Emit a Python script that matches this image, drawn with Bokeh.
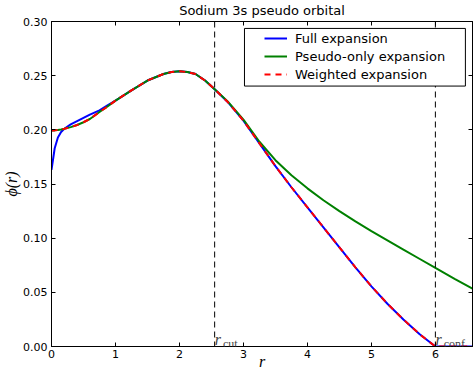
from bokeh.plotting import figure
from bokeh.models import (ColumnDataSource, Range1d, FixedTicker, NumeralTickFormatter,
                          LinearAxis, Span, Label, Legend, LegendItem, BoxAnnotation)
from bokeh.embed import file_html
from bokeh.resources import INLINE

# ---- data ----
r = [0.0, 0.05, 0.1, 0.15, 0.2, 0.3, 0.4, 0.5, 0.6, 0.75, 0.875, 1.0, 1.25, 1.5, 1.75,
     1.875, 2.0, 2.125, 2.25, 2.4, 2.55, 2.75, 3.0, 3.25, 3.5, 3.75, 4.0, 4.25, 4.5,
     4.75, 5.0, 5.25, 5.5, 5.75, 6.0, 6.3, 6.58]
full_expansion = [0.163, 0.183, 0.193, 0.198, 0.201, 0.205, 0.208, 0.211, 0.214, 0.218,
                  0.2225, 0.227, 0.2365, 0.2455, 0.2515, 0.2533, 0.254, 0.2533, 0.2515,
                  0.2455, 0.2375, 0.226, 0.2085, 0.1875, 0.1665, 0.147, 0.1285, 0.110,
                  0.0915, 0.073, 0.0555, 0.0395, 0.025, 0.0115, 0.0, 0.0, 0.0]
pseudo_only = [0.1995, 0.1995, 0.1998, 0.2003, 0.201, 0.2025, 0.2045, 0.207, 0.210, 0.2165,
               0.2215, 0.227, 0.2365, 0.2455, 0.2515, 0.2533, 0.254, 0.2533, 0.2515,
               0.2455, 0.2375, 0.2265, 0.2095, 0.189, 0.172, 0.158, 0.146, 0.135,
               0.125, 0.1155, 0.1065, 0.098, 0.0895, 0.081, 0.0725, 0.0625, 0.0535]
weighted = [0.1995, 0.1995, 0.1998, 0.2003, 0.201, 0.2025, 0.2045, 0.207, 0.210, 0.2165,
            0.2215, 0.227, 0.2365, 0.2455, 0.2515, 0.2533, 0.254, 0.2533, 0.2515,
            0.2455, 0.2375, 0.226, 0.2085, 0.1875, 0.1665, 0.147, 0.1285, 0.110,
            0.0915, 0.073, 0.0555, 0.0395, 0.025, 0.0115, 0.0, 0.0, 0.0]
series_names = ["Full expansion", "Pseudo-only expansion", "Weighted expansion"]
r_cut = [2.55]
r_conf = [6.0]
x_ticks = [0, 1, 2, 3, 4, 5, 6]
y_ticks = [0.0, 0.05, 0.10, 0.15, 0.20, 0.25, 0.30]
title_text = "Sodium 3s pseudo orbital"
x_label = "r"
y_label = "\u03d5(r)"

XMAX, YMAX = 6.58, 0.30

src = ColumnDataSource(dict(r=r, full=full_expansion, pseudo=pseudo_only, w=weighted))

p = figure(width=474, height=372, output_backend="svg", toolbar_location=None,
           title=title_text, x_range=Range1d(0, XMAX), y_range=Range1d(0, YMAX),
           min_border_left=51, min_border_right=2, min_border_top=20, min_border_bottom=25)
p.background_fill_color = "white"
p.border_fill_color = "white"
p.outline_line_color = "black"
p.outline_line_width = 1
p.xgrid.visible = False
p.ygrid.visible = False

p.title.align = "center"
p.title.vertical_align = "top"
p.title.text_font = "DejaVu Sans"
p.title.text_font_size = "13px"
p.title.text_font_style = "normal"
p.title.text_color = "black"
p.title.standoff = 4

TICK_FONT = "DejaVu Sans"
MATH = "Liberation Serif"

def style_axis(ax, ticks, show_labels):
    ax.ticker = FixedTicker(ticks=ticks)
    ax.major_tick_in = 4
    ax.major_tick_out = 0
    ax.minor_tick_line_color = None
    ax.axis_line_color = "black"
    ax.major_tick_line_color = "black"
    ax.major_label_text_font = TICK_FONT
    ax.major_label_text_color = "black"
    if show_labels:
        ax.major_label_text_font_size = "11px"
    else:
        ax.major_label_text_font_size = "0px"
        ax.major_label_standoff = 0

xa = p.xaxis[0]
style_axis(xa, x_ticks, True)
xa.major_label_standoff = 3
xa.axis_label = x_label
xa.axis_label_text_font = MATH
xa.axis_label_text_font_style = "italic"
xa.axis_label_text_font_size = "16px"
xa.axis_label_text_color = "black"
xa.axis_label_standoff = -8

ya = p.yaxis[0]
style_axis(ya, y_ticks, True)
ya.major_label_standoff = 4
ya.formatter = NumeralTickFormatter(format="0.00")
ya.axis_label = y_label
ya.axis_label_text_font = MATH
ya.axis_label_text_font_style = "italic"
ya.axis_label_text_font_size = "16px"
ya.axis_label_text_color = "black"
ya.axis_label_standoff = 0

top_ax = LinearAxis()
style_axis(top_ax, x_ticks, False)
p.add_layout(top_ax, "above")
right_ax = LinearAxis()
style_axis(right_ax, y_ticks, False)
p.add_layout(right_ax, "right")

# curves
l_full = p.line("r", "full", source=src, line_color="#0000ff", line_width=2)
l_pseudo = p.line("r", "pseudo", source=src, line_color="#008000", line_width=2)
l_w = p.line("r", "w", source=src, line_color="#ff0000", line_width=2, line_dash="6 5")

# vertical dashed markers
for loc in r_cut + r_conf:
    p.add_layout(Span(location=loc, dimension="height", line_color="black",
                      line_width=1, line_dash="6 4"))

# legend frame
box = BoxAnnotation(left=3.016, right=6.469, bottom=0.2404, top=0.2936,
                    fill_color="white", fill_alpha=1.0,
                    line_color="black", line_width=1, line_alpha=1.0)
p.add_layout(box)

legend = Legend(items=[LegendItem(label=series_names[0], renderers=[l_full]),
                       LegendItem(label=series_names[1], renderers=[l_pseudo]),
                       LegendItem(label=series_names[2], renderers=[l_w])],
                location="top_right", margin=5, padding=3, spacing=0,
                glyph_width=23, glyph_height=18, label_height=18, label_standoff=8,
                label_width=169, border_line_alpha=0, background_fill_alpha=0,
                label_text_font=TICK_FONT, label_text_font_size="13px",
                label_text_color="black")
p.add_layout(legend)

# annotation texts near the markers
p.add_layout(Label(x=r_cut[0], y=0.0065, text="r", text_font=MATH, text_font_style="italic",
                   text_font_size="16px", text_align="left", text_baseline="alphabetic"))
p.add_layout(Label(x=r_cut[0] + 0.13, y=0.002, text="cut", text_font=MATH,
                   text_font_size="12px", text_align="left", text_baseline="alphabetic"))
p.add_layout(Label(x=r_conf[0], y=0.0065, text="r", text_font=MATH, text_font_style="italic",
                   text_font_size="16px", text_align="left", text_baseline="alphabetic"))
p.add_layout(Label(x=r_conf[0] + 0.13, y=0.002, text="conf", text_font=MATH,
                   text_font_size="12px", text_align="left", text_baseline="alphabetic"))

open("out.html", "w").write(file_html(p, INLINE))
